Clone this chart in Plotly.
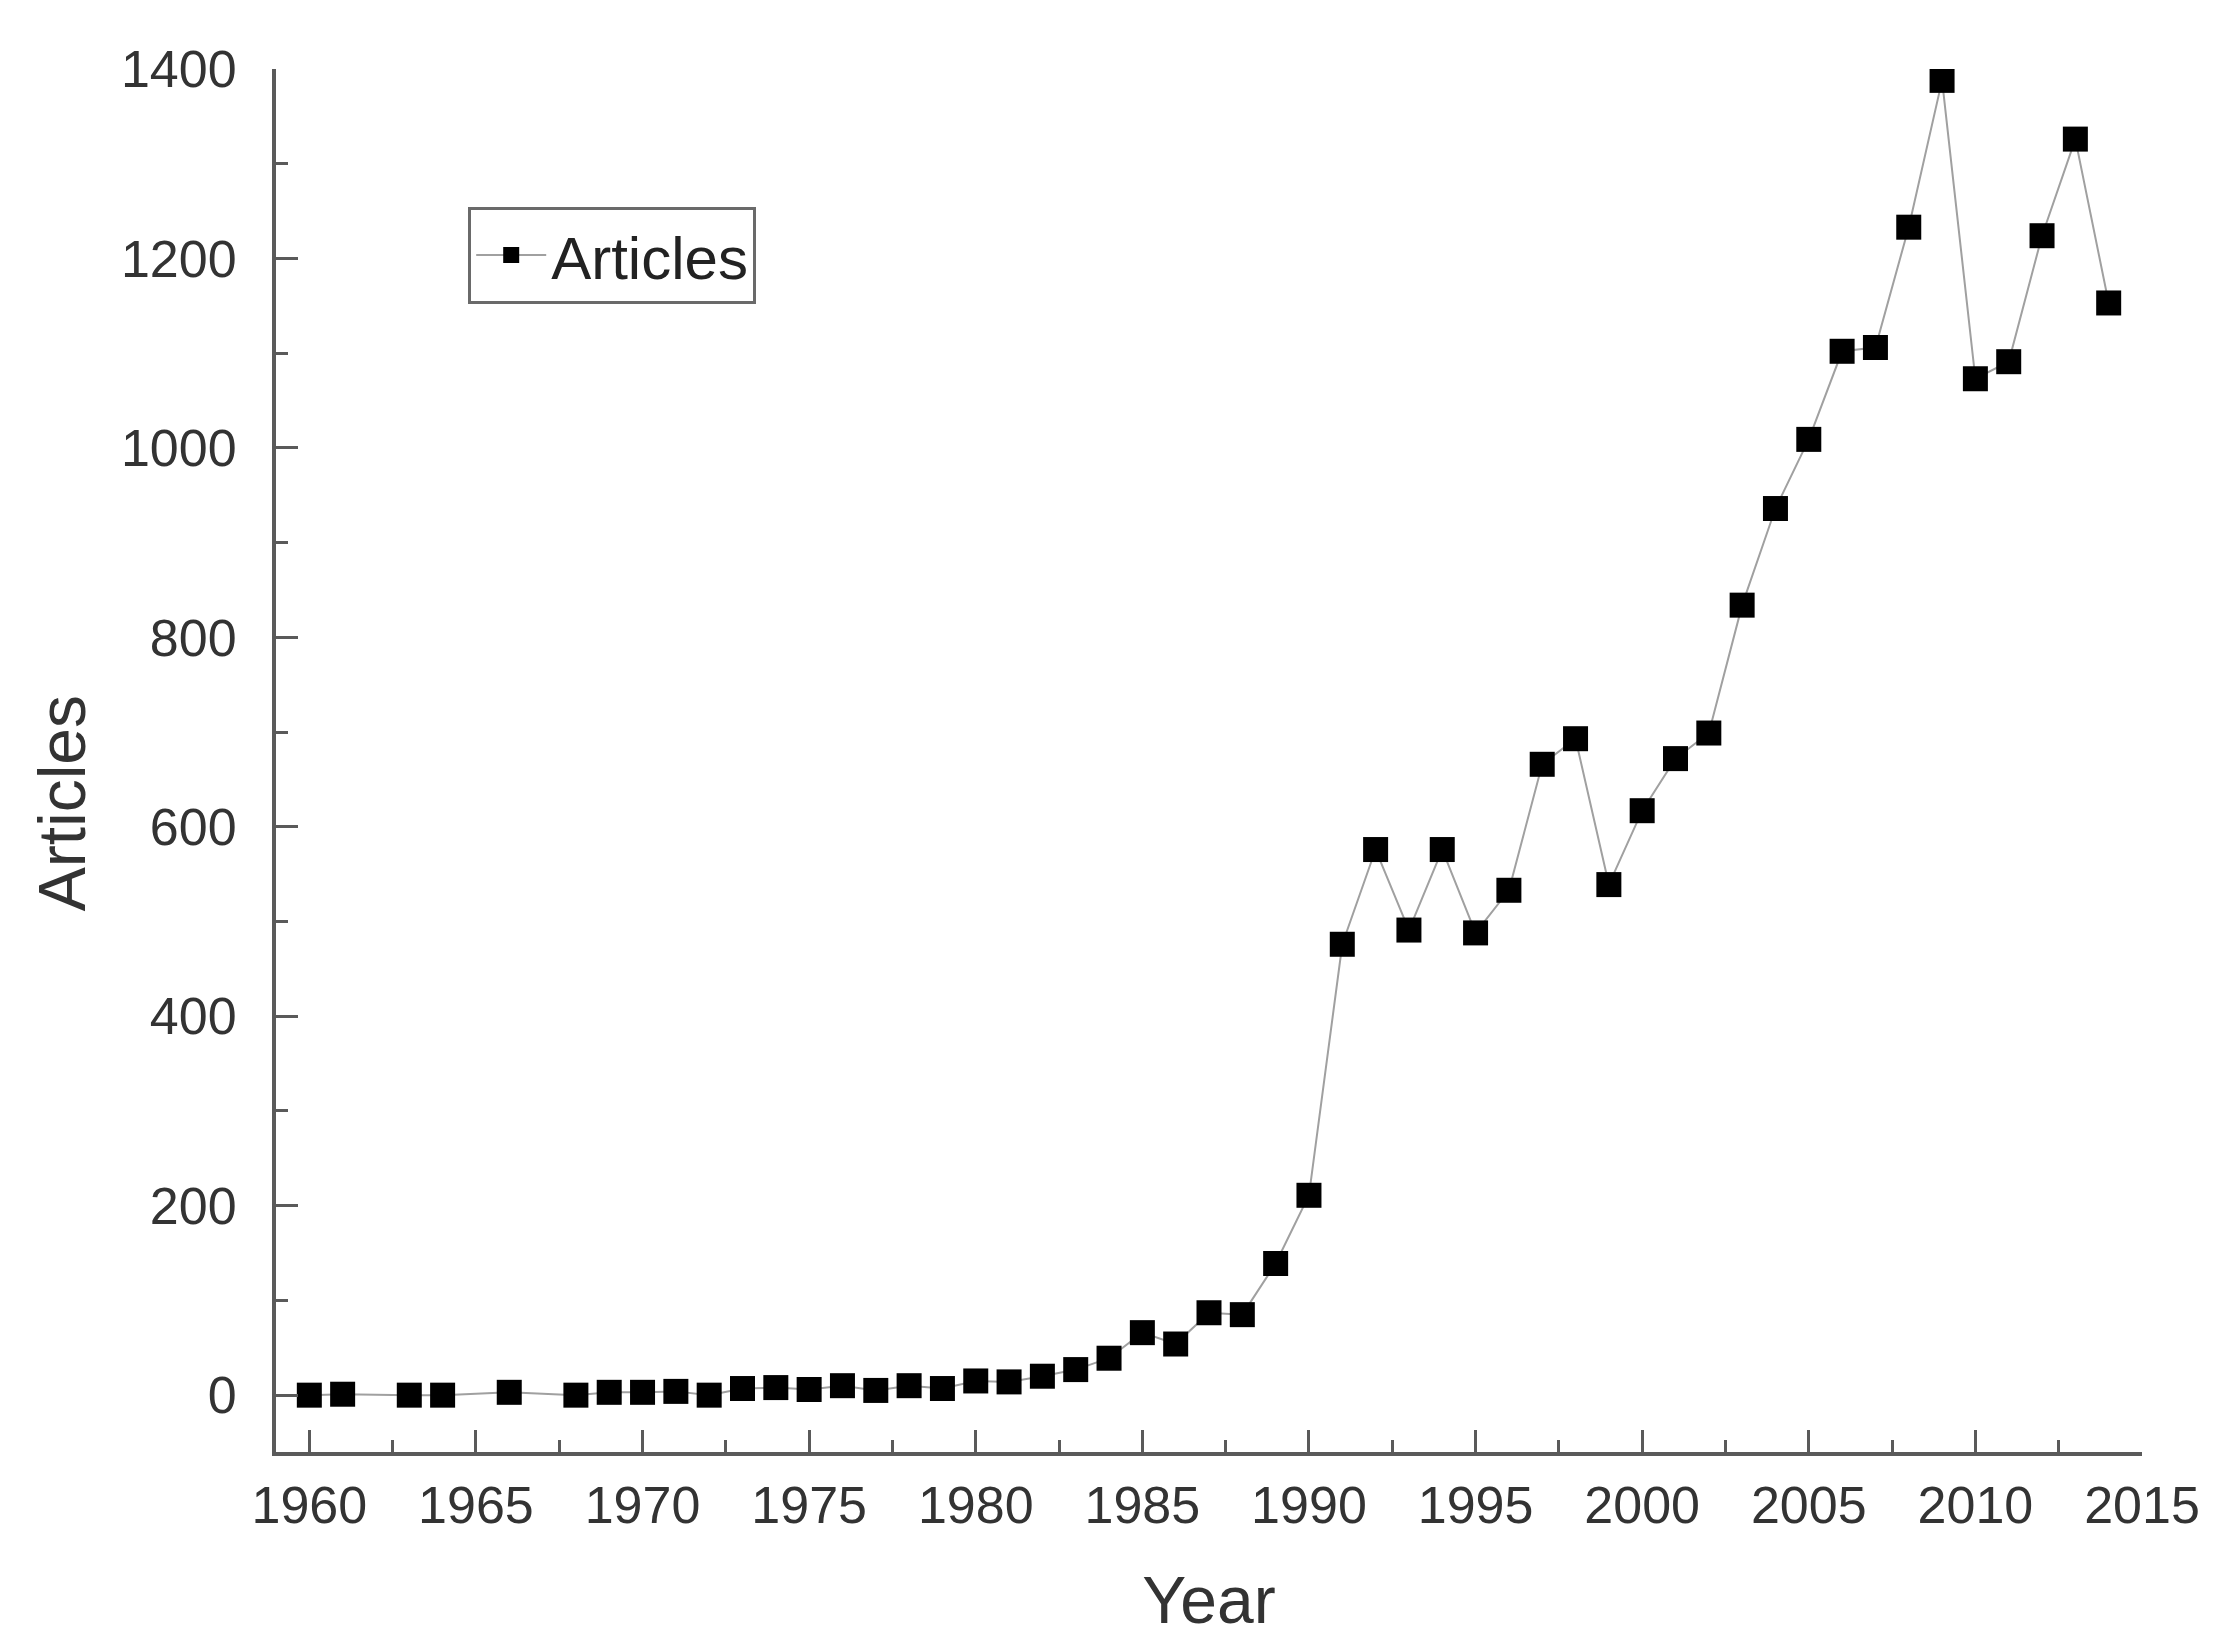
import plotly.graph_objects as go

# 年份与文章数量（1962、1965、1967 年无数据）
years = [1960, 1961, 1963, 1964, 1966, 1968, 1969, 1970, 1971, 1972,
         1973, 1974, 1975, 1976, 1977, 1978, 1979, 1980, 1981, 1982,
         1983, 1984, 1985, 1986, 1987, 1988, 1989, 1990, 1991, 1992,
         1993, 1994, 1995, 1996, 1997, 1998, 1999, 2000, 2001, 2002,
         2003, 2004, 2005, 2006, 2007, 2008, 2009, 2010, 2011, 2012,
         2013, 2014]
articles = [0, 1, 0, 0, 3, 0, 3, 3, 4, 0,
            7, 8, 6, 10, 5, 10, 7, 15, 14, 20,
            27, 39, 66, 54, 87, 85, 139, 211, 476, 576,
            491, 576, 488, 533, 666, 693, 539, 617, 672, 699,
            834, 936, 1009, 1102, 1106, 1233, 1388, 1073, 1091, 1224,
            1326, 1153]

x_ticks = [1960, 1965, 1970, 1975, 1980, 1985, 1990, 1995, 2000, 2005, 2010, 2015]
y_ticks = [0, 200, 400, 600, 800, 1000, 1200, 1400]

FONT = "Liberation Sans, Arial, sans-serif"
AXIS_COLOR = "#5a5a5a"
TEXT_COLOR = "#333333"

fig = go.Figure()

fig.add_trace(
    go.Scatter(
        x=years,
        y=articles,
        name="Articles",
        mode="lines+markers",
        line=dict(color="#a0a0a0", width=2),
        marker=dict(symbol="square", size=25, color="black"),
    )
)

axis_common = dict(
    showgrid=False,
    zeroline=False,
    showline=True,
    linecolor=AXIS_COLOR,
    linewidth=4,
    ticks="inside",
    ticklen=22,
    tickwidth=3,
    tickcolor=AXIS_COLOR,
    tickfont=dict(family=FONT, size=52, color=TEXT_COLOR),
)

fig.update_xaxes(
    **axis_common,
    range=[1959, 2015],
    tickvals=x_ticks,
    ticklabelstandoff=5,
    minor=dict(dtick=2.5, tick0=1960, ticks="inside", ticklen=12,
               tickwidth=3, tickcolor=AXIS_COLOR),
    title=dict(text="Year", font=dict(family=FONT, size=66, color=TEXT_COLOR),
               standoff=44),
)

fig.update_yaxes(
    **axis_common,
    range=[-60, 1400],
    tickvals=y_ticks,
    ticklabelstandoff=25,
    minor=dict(dtick=100, tick0=0, ticks="inside", ticklen=12,
               tickwidth=3, tickcolor=AXIS_COLOR),
)

# y 轴标题略低于绘图区中心，用注释放置
fig.add_annotation(
    text="Articles",
    textangle=-90,
    xref="paper", yref="paper",
    x=-0.1147, y=0.469,
    xanchor="center", yanchor="middle",
    showarrow=False,
    font=dict(family=FONT, size=66, color=TEXT_COLOR),
)

fig.update_layout(
    width=2220,
    height=1641,
    plot_bgcolor="white",
    paper_bgcolor="white",
    margin=dict(l=268, r=86, t=61, b=197),
    showlegend=True,
    legend=dict(
        x=0.103, y=0.9005, xanchor="left", yanchor="top",
        bordercolor="#6a6a6a", borderwidth=3,
        bgcolor="white",
        font=dict(family=FONT, size=60, color="#222222"),
        itemwidth=70,
    ),
)

fig.write_html("out.html")
